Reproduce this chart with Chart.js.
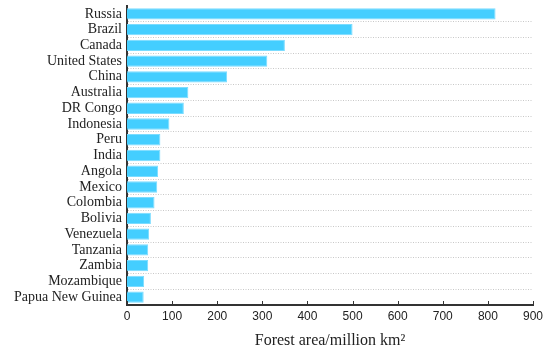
<!DOCTYPE html>
<html>
<head>
<meta charset="utf-8">
<script src="https://cdn.jsdelivr.net/npm/chart.js@4"></script>
<style>
  html, body { margin: 0; padding: 0; background: #fff; }
  #wrap { width: 550px; height: 354px; }
</style>
</head>
<body>
<div id="wrap"><canvas id="myChart"></canvas></div>
<script>
// dati
const paesi = ['Russia', 'Brazil', 'Canada', 'United States', 'China', 'Australia', 'DR Congo',
  'Indonesia', 'Peru', 'India', 'Angola', 'Mexico', 'Colombia', 'Bolivia', 'Venezuela',
  'Tanzania', 'Zambia', 'Mozambique', 'Papua New Guinea'];
const areaForesta = [817, 500, 350, 311, 222, 136, 126, 94, 74, 74, 69, 67, 61, 53, 49, 47, 47, 38, 37];
const tickX = [0, 100, 200, 300, 400, 500, 600, 700, 800, 900];

// tacche verso l'interno sull'asse x
const tacchePlugin = {
  id: 'tacche',
  afterDraw: (chart) => {
    const { ctx } = chart;
    const sx = chart.scales.x;
    ctx.save();
    ctx.strokeStyle = '#333';
    ctx.lineWidth = 1;
    tickX.forEach(v => {
      const px = Math.round(sx.getPixelForValue(v)) + 0.5;
      ctx.beginPath();
      ctx.moveTo(px, sx.top);
      ctx.lineTo(px, sx.top - 4);
      ctx.stroke();
    });
    ctx.restore();
  }
};

new Chart('myChart', {
  type: 'bar',
  data: {
    labels: paesi,
    datasets: [{
      data: areaForesta,
      backgroundColor: '#44ceff',
      borderColor: '#7adcff',
      borderWidth: 1,
      categoryPercentage: 1,
      barPercentage: 0.72
    }]
  },
  options: {
    indexAxis: 'y',
    responsive: true,
    maintainAspectRatio: false,
    animation: false,
    layout: { padding: { top: 6, right: 17, bottom: 0, left: 0 } },
    plugins: { legend: { display: false }, tooltip: { enabled: false } },
    scales: {
      y: {
        offset: true,
        grid: {
          offset: true,
          drawTicks: false,
          color: (c) => c.index === 0 ? 'rgba(0,0,0,0)' : '#c8c8c8',
          lineWidth: 1
        },
        border: { color: '#333', width: 2, dash: [1, 1.5] },
        ticks: {
          autoSkip: false,
          color: '#222',
          padding: 5,
          font: { family: '"Liberation Serif", "Times New Roman", serif', size: 14 }
        },
        afterFit: (s) => {
          s.width = 127;
          s.paddingTop = 0;
          s.paddingBottom = 0;
        }
      },
      x: {
        min: 0,
        max: 900,
        grid: { display: false, drawTicks: false, tickLength: 0 },
        border: { color: '#333', width: 2 },
        ticks: {
          stepSize: 100,
          color: '#222',
          padding: 4,
          font: { family: '"Liberation Sans", Arial, sans-serif', size: 12 }
        },
        title: {
          display: true,
          text: 'Forest area/million km²',
          color: '#222',
          padding: { top: 10, bottom: 4 },
          font: { family: '"Liberation Serif", "Times New Roman", serif', size: 16 }
        },
        afterFit: (s) => { s.height = 49; }
      }
    }
  },
  plugins: [tacchePlugin]
});
</script>
</body>
</html>
